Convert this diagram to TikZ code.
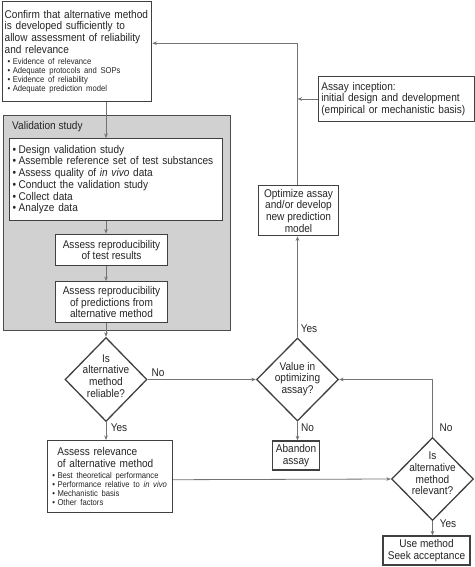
\documentclass[tikz,border=0pt]{standalone}
\usepackage{fontspec}
\setmainfont[FakeStretch=0.9]{Liberation Sans}
\usetikzlibrary{shapes.geometric,arrows.meta,calc}
\newcommand\mainsz{\fontsize{11.2}{11.7}\selectfont}
\newcommand\smallsz{\fontsize{8.5}{9}\selectfont}
\newcommand\bul{\textbullet\hspace{2.5pt}}
\begin{document}
\begin{tikzpicture}[x=1pt,y=-1pt,
  box/.style={draw=black!75, line width=1.3pt, fill=white, inner xsep=3pt, inner ysep=2pt, font=\mainsz, text=black!85},
  conn/.style={draw=black!55, line width=0.8pt},
  arr/.style={conn, -{Stealth[length=4.5pt,width=3.6pt]}},
  lab/.style={font=\mainsz, text=black!85, inner sep=0pt},
  dia/.style={draw=black!75, line width=1.3pt, diamond, fill=white, inner sep=0pt, minimum width=82pt, minimum height=84pt},
  dtext/.style={font=\mainsz, text=black!85, align=center, inner sep=0pt},
]
\useasboundingbox (0,0) rectangle (474,567);
\fill[white] (0,0) rectangle (474,567);
\coordinate (sp) at (106,0);

% outer validation frame
\node[draw=black!70, line width=1.4pt, fill=black!18, anchor=north west, minimum width=227pt, minimum height=215pt] (outer) at (3,115) {};
\node[lab, anchor=west] (vtitle) at (12,127) {Validation study};

% confirm box
\node[box, anchor=north west, minimum width=149pt, minimum height=100pt, text width=145pt, align=left, inner xsep=2pt] (confirm) at (2,1)
{{\mainsz Confirm that alternative method\\is developed sufficiently to\\allow assessment of reliability\\and relevance\par}
\vspace{2.5pt}
{\smallsz\leftskip=3pt \bul Evidence of relevance\\\bul Adequate protocols and SOPs\\\bul Evidence of reliability\\\bul Adequate prediction model\par}};
\coordinate (cin) at ($(confirm.north east)!0.417!(confirm.south east)$);

% inner validation box
\node[box, anchor=north west, minimum width=213pt, minimum height=82pt, text width=207pt, align=left, inner xsep=3pt] (inner) at (9,138)
{\bul Design validation study\\\bul Assemble reference set of test substances\\\bul Assess quality of \textit{in vivo} data\\\bul Conduct the validation study\\\bul Collect data\\\bul Analyze data};

\node[box, align=center, minimum width=111.6pt, minimum height=31.4pt] (test) at (111.5,250) {Assess reproducibility\\of test results};
\node[box, align=center, minimum width=111.6pt, minimum height=41pt] (pred) at (111.5,302.2) {Assess reproducibility\\of predictions from\\alternative method};

% reliable diamond
\node[dia] (reld) at (106,379.5) {};
\node[dtext] (reldt) at (106,376) {Is\\alternative\\method\\reliable?};

% relevance box
\node[box, anchor=north west, minimum width=125pt, minimum height=71.7pt, text width=119pt, align=left, inner xsep=3pt] (relb) at (46.7,440)
{{\mainsz\leftskip=7pt Assess relevance\\of alternative method\par}
\vspace{2.5pt}
{\smallsz\leftskip=2pt \bul Best theoretical performance\\\bul Performance relative to \textit{in vivo}\\\bul Mechanistic basis\\\bul Other factors\par}};
\coordinate (rout) at ($(relb.north east)!0.544!(relb.south east)$);

% value diamond
\node[dia, minimum height=83pt] (val) at (297.5,379.5) {};
\node[dtext] (valt) at (297.5,379) {Value in\\optimizing\\assay?};

% optimize box
\node[box, align=center, minimum width=80pt, minimum height=50pt] (opt) at (298.5,210.7) {Optimize assay\\and/or develop\\new prediction\\model};

% inception box
\node[box, anchor=north west, minimum width=155.3pt, minimum height=45.3pt, text width=150pt, align=left, inner xsep=3pt] (inc) at (317.7,75.7)
{Assay inception:\\initial design and development\\(empirical or mechanistic basis)};

% abandon box
\node[box, align=center, minimum width=46pt, minimum height=29pt] (ab) at (296,455.5) {Abandon\\assay};

% relevant diamond
\node[dia, minimum height=83pt] (relv) at (432.5,479) {};
\node[dtext] (relvt) at (432.5,473.5) {Is\\alternative\\method\\relevant?};

% use box
\node[box, align=center, minimum width=87pt, minimum height=29pt] (use) at (426.5,550.5) {Use method\\Seek acceptance};

% connectors
\draw[arr] (confirm.south -| sp) -- (inner.north -| sp);
\draw[arr] (inner.south -| sp) -- (test.north -| sp);
\draw[arr] (test.south -| sp) -- (pred.north -| sp);
\draw[arr] (pred.south -| sp) -- (reld.north);
\draw[arr] (reld.east) -- (val.west);
\draw[arr] (reld.south) -- (reld.south |- relb.north);
\draw[arr] (rout) -- (relv.west);
\draw[arr] (val.north) -- (val.north |- opt.south);
\draw[arr] (val.south) -- (val.south |- ab.north);
\draw[arr] (relv.north) -- (relv.north |- val.east) -- (val.east);
\draw[arr] (relv.south) -- (relv.south |- use.north);
\draw[arr] (opt.north -| val.north) -- (val.north |- cin) -- (cin);
\draw[arr] (inc.west) -- (inc.west -| val.north);

% labels
\node[lab] (no1) at (158,373) {No};
\node[lab] (yes1) at (119,428) {Yes};
\node[lab] (yes2) at (309,328.3) {Yes};
\node[lab] (no2) at (307.5,427.7) {No};
\node[lab] (no3) at (446,428) {No};
\node[lab] (yes3) at (448,524) {Yes};
\end{tikzpicture}
\end{document}
